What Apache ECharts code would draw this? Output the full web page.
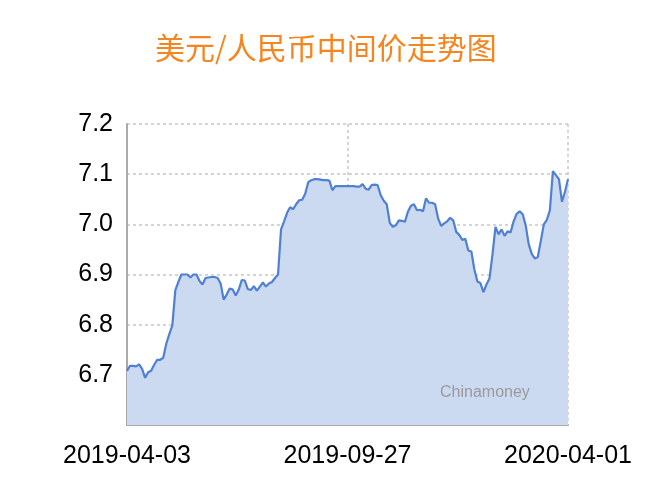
<!DOCTYPE html>
<html>
<head>
<meta charset="utf-8">
<script src="https://cdn.jsdelivr.net/npm/echarts@6/dist/echarts.min.js"></script>
<style>html,body{margin:0;padding:0;background:#fff;}#c{width:667px;height:481px;}</style>
</head>
<body>
<div id="c"></div>
<script>
const titleText = '美元/人民币中间价走势图';
const watermark = 'Chinamoney';
const xTickLabels = ['2019-04-03', '2019-09-27', '2020-04-01'];
const yMin = 6.6, yMax = 7.2, yStep = 0.1;
const values = [
 6.708,6.718,6.718,6.717,6.721,6.712,6.694,6.705,6.708,6.720,
 6.730,6.730,6.734,6.762,6.781,6.798,6.869,6.885,6.900,6.900,
 6.900,6.894,6.900,6.900,6.887,6.880,6.893,6.894,6.895,6.895,
 6.893,6.882,6.850,6.860,6.872,6.870,6.858,6.870,6.889,6.888,
 6.871,6.869,6.877,6.868,6.876,6.884,6.876,6.882,6.885,6.893,
 6.900,6.990,7.006,7.023,7.034,7.030,7.040,7.048,7.049,7.061,
 7.084,7.088,7.090,7.090,7.089,7.088,7.088,7.087,7.068,7.076,
 7.076,7.076,7.076,7.076,7.076,7.076,7.075,7.075,7.080,7.071,
 7.069,7.078,7.079,7.078,7.058,7.047,7.040,7.003,6.995,6.998,
 7.008,7.007,7.005,7.025,7.037,7.040,7.028,7.029,7.026,7.052,
 7.043,7.043,7.040,7.012,6.997,7.002,7.006,7.013,7.008,6.985,
 6.979,6.969,6.971,6.948,6.946,6.910,6.886,6.883,6.865,6.880,
 6.892,6.940,6.995,6.980,6.990,6.977,6.986,6.984,7.006,7.021,
 7.026,7.020,6.998,6.960,6.941,6.932,6.935,6.967,7.000,7.009,
 7.028,7.106,7.098,7.090,7.045,7.065,7.090
];
const n = values.length;
const mid = Math.round((n - 1) / 2);
const cats = values.map((v, i) => i === 0 ? xTickLabels[0] : (i === mid ? xTickLabels[1] : (i === n - 1 ? xTickLabels[2] : '')));

const chart = echarts.init(document.getElementById('c'), null, {renderer: 'canvas'});
const dotted = {color: '#c8c8c8', width: 1.5, type: [3, 3]};
chart.setOption({
  animation: false,
  title: {
    text: titleText, left: 150, top: 28,
    textStyle: {color: '#f5861f', fontSize: 30, fontWeight: 'normal', fontFamily: 'Noto Sans CJK SC'}
  },
  grid: {left: 127, right: 99, top: 124, bottom: 56},
  xAxis: {
    type: 'category', data: cats, boundaryGap: false,
    axisLine: {show: true, lineStyle: {color: '#aaaaaa', width: 2}},
    axisTick: {show: false},
    axisLabel: {
      interval: (idx) => idx === 0 || idx === mid || idx === n - 1,
      color: '#000', fontSize: 25, fontFamily: 'Liberation Sans', margin: 19,
      showMinLabel: true, showMaxLabel: true
    },
    splitLine: {show: true, interval: (idx) => idx === mid || idx === n - 1, lineStyle: dotted}
  },
  yAxis: {
    type: 'value', min: yMin, max: yMax, interval: yStep,
    axisLine: {show: true, lineStyle: {color: '#aaaaaa', width: 2}},
    axisTick: {show: false},
    axisLabel: {
      color: '#000', fontSize: 25, fontFamily: 'Liberation Sans', margin: 14,
      formatter: (v) => Math.abs(v - yMin) < 1e-6 ? '' : v.toFixed(1)
    },
    splitLine: {show: true, lineStyle: dotted}
  },
  graphic: [{
    type: 'text', left: 440, top: 385, z: 100,
    style: {text: watermark, fill: '#9a9a9a', font: '16px "Liberation Sans"'}
  }],
  series: [{
    type: 'line', data: values, symbol: 'none', smooth: false,
    lineStyle: {color: '#4f80d3', width: 2.2},
    areaStyle: {color: '#cbdaf0', opacity: 1, origin: 'start'},
    z: 1
  }]
});
</script>
</body>
</html>
